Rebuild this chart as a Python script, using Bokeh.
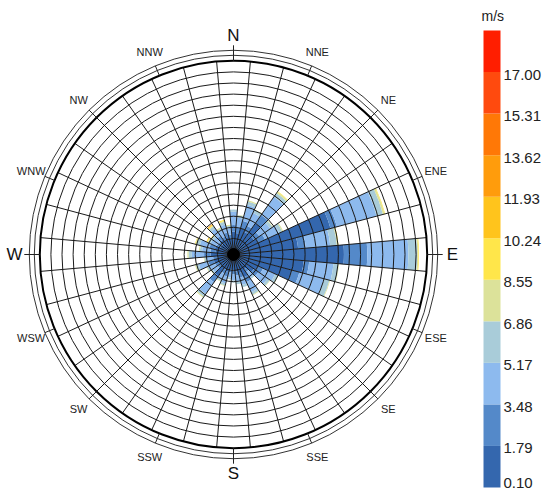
import numpy as np
from bokeh.plotting import figure
from bokeh.models import Range1d, ColumnDataSource
from bokeh.core.properties import value
from bokeh.embed import file_html
from bokeh.resources import INLINE

# ---------------- data ----------------
directions = list(range(0, 360, 10))  # compass bearing of each sector (deg)

# frequency (%) per speed bin, per direction (stacked from centre outward)
bin1 = [1.6, 1.5, 2.0, 1.8, 3.0, 1.8, 2.0, 8.6, 5.4, 9.5, 5.9, 5.0,
        2.0, 1.8, 1.2, 1.8, 1.3, 1.1, 1.0, 0.9, 1.2, 1.1, 1.9, 1.0,
        1.0, 1.4, 1.0, 1.6, 1.2, 1.3, 0.9, 0.9, 1.2, 1.0, 1.2, 1.0]
bin2 = [0.6, 0.5, 0.7, 0.6, 0.9, 0.6, 0.7, 0.6, 0.7, 2.1, 0.5, 0.7,
        0.5, 0.5, 0.3, 0.5, 0.4, 0.35, 0.35, 0.3, 0.4, 0.35, 0.7, 0.3,
        0.4, 0.5, 0.4, 0.6, 0.45, 0.5, 0.35, 0.3, 0.4, 0.35, 0.4, 0.35]
bin3 = [1.2, 0.9, 1.5, 1.3, 2.0, 1.2, 1.4, 3.7, 2.2, 3.7, 2.2, 2.3,
        1.2, 1.0, 0.6, 1.0, 0.7, 0.6, 0.55, 0.45, 0.65, 0.6, 1.3, 0.55,
        0.6, 0.9, 0.6, 1.1, 0.75, 0.9, 0.6, 0.55, 0.8, 0.6, 0.75, 0.6]
bin4 = [0.2, 0.2, 0.3, 0.3, 0.4, 0.25, 0.3, 0.6, 0.6, 0.8, 0.45, 0.5,
        0.3, 0.25, 0.15, 0.25, 0.2, 0.2, 0.17, 0.15, 0.2, 0.15, 0.3, 0.17,
        0.2, 0.25, 0.2, 0.3, 0.2, 0.3, 0.2, 0.2, 0.25, 0.2, 0.25, 0.2]
bin5 = [0.0, 0.05, 0.1, 0.05, 0.15, 0.05, 0.1, 0.15, 0.1, 0.1, 0.05, 0.06,
        0.05, 0.05, 0.0, 0.05, 0.0, 0.0, 0.0, 0.0, 0.05, 0.05, 0.1, 0.05,
        0.05, 0.1, 0.05, 0.1, 0.1, 0.1, 0.1, 0.07, 0.1, 0.1, 0.1, 0.1]
bin6 = [0.0, 0.0, 0.0, 0.0, 0.05, 0.0, 0.0, 0.05, 0.05, 0.06, 0.0, 0.0,
        0.0, 0.0, 0.0, 0.0, 0.0, 0.0, 0.0, 0.0, 0.0, 0.0, 0.0, 0.0,
        0.0, 0.0, 0.0, 0.0, 0.0, 0.05, 0.05, 0.05, 0.05, 0.0, 0.1, 0.0]
bin7 = [0.0, 0.0, 0.0, 0.0, 0.0, 0.0, 0.0, 0.0, 0.0, 0.0, 0.0, 0.0,
        0.0, 0.0, 0.0, 0.0, 0.0, 0.0, 0.0, 0.0, 0.0, 0.0, 0.0, 0.0,
        0.0, 0.0, 0.0, 0.0, 0.0, 0.0, 0.05, 0.0, 0.05, 0.0, 0.0, 0.0]
bin8 = [0.0, 0.0, 0.0, 0.0, 0.0, 0.0, 0.0, 0.0, 0.0, 0.0, 0.0, 0.0,
        0.0, 0.0, 0.0, 0.0, 0.0, 0.0, 0.0, 0.0, 0.0, 0.0, 0.0, 0.0,
        0.0, 0.0, 0.0, 0.0, 0.0, 0.0, 0.0, 0.0, 0.05, 0.0, 0.0, 0.0]
bins = [bin1, bin2, bin3, bin4, bin5, bin6, bin7, bin8]

speed_ticks = ["0.10", "1.79", "3.48", "5.17", "6.86", "8.55",
               "10.24", "11.93", "13.62", "15.31", "17.00"]
speed_colors = ["#3467AE", "#5489C9", "#8DBAEE", "#A9CCD9", "#DCE29A",
                "#FFE64A", "#FFC41C", "#FF9C0C", "#FF7806", "#FF4A0E", "#FF1E00"]

compass = ["N", "NNE", "NE", "ENE", "E", "ESE", "SE", "SSE",
           "S", "SSW", "SW", "WSW", "W", "WNW", "NW", "NNW"]
n_rings = 17

# ---------------- geometry ----------------
W_FIG, H_FIG = 550, 489
CX, CY = 233.0, H_FIG - 254.0
R0 = 5.0           # radius of centre hole
S = 11.1           # px per % ring
R_OUT = R0 + S * n_rings

def pol(r, bearing_deg):
    a = np.radians(90.0 - np.asarray(bearing_deg, dtype=float))
    return CX + r * np.cos(a), CY + r * np.sin(a)

p = figure(width=W_FIG, height=H_FIG, x_range=Range1d(0, W_FIG), y_range=Range1d(0, H_FIG),
           output_backend="svg", toolbar_location=None, min_border=0)
p.axis.visible = False
p.grid.visible = False
p.outline_line_color = None
p.background_fill_color = "white"
p.border_fill_color = "white"

# stacked wedges
xs, ys, r_in, r_out, a0, a1, cols = [], [], [], [], [], [], []
for i, d in enumerate(directions):
    cum = 0.0
    for k, b in enumerate(bins):
        v = b[i]
        if v <= 0:
            continue
        r_in.append(R0 + S * cum)
        cum += v
        r_out.append(R0 + S * cum)
        a0.append(np.radians(90 - d - 5))
        a1.append(np.radians(90 - d + 5))
        xs.append(CX); ys.append(CY)
        cols.append(speed_colors[k])
src = ColumnDataSource(dict(x=xs, y=ys, ri=r_in, ro=r_out, a0=a0, a1=a1, c=cols))
p.annular_wedge(x="x", y="y", inner_radius="ri", outer_radius="ro",
                start_angle="a0", end_angle="a1", fill_color="c",
                line_color=None, source=src)

# grid rings
ring_r = [R0 + S * k for k in range(1, n_rings)]
p.circle(x=[CX] * len(ring_r), y=[CY] * len(ring_r), radius=ring_r,
         fill_color=None, line_color="#1a1a1a", line_width=1)
# spokes
sp = np.arange(5, 360, 10)
x1, y1 = pol(R_OUT, sp)
p.segment(x0=[CX] * len(sp), y0=[CY] * len(sp), x1=list(x1), y1=list(y1),
          line_color="#1a1a1a", line_width=1)
# outer rings
p.circle(x=[CX], y=[CY], radius=[R_OUT], fill_color=None, line_color="black", line_width=2)
p.circle(x=[CX, CX], y=[CY, CY], radius=[R_OUT + 5.5, R_OUT + 10.5],
         fill_color=None, line_color="#333333", line_width=1)
p.circle(x=[CX], y=[CY], radius=[R0 + 1], fill_color="black", line_color="black")

# compass ticks
bear16 = np.arange(16) * 22.5
major = [i % 4 == 0 for i in range(16)]
r_end = np.array([R_OUT + 15.5 if m else R_OUT + 10.5 for m in major])
tx0, ty0 = pol(R_OUT, bear16)
tx1, ty1 = pol(r_end, bear16)
p.segment(x0=list(tx0), y0=list(ty0), x1=list(tx1), y1=list(ty1),
          line_color="#222222", line_width=1)

# compass labels
lx, ly = pol(219.0, bear16)
small = [c for c, m in zip(compass, major) if not m]
p.text(x=[x for x, m in zip(lx, major) if not m], y=[y for y, m in zip(ly, major) if not m],
       text=small, text_font=value("Liberation Sans"), text_font_size="11px",
       text_align="center", text_baseline="middle", text_color="#222222")
big = [c for c, m in zip(compass, major) if m]
p.text(x=[x for x, m in zip(lx, major) if m], y=[y for y, m in zip(ly, major) if m],
       text=big, text_font=value("Liberation Sans"), text_font_size="17px",
       text_align="center", text_baseline="middle", text_color="#111111")

# colour bar
CB_TOP, CB_BOT = H_FIG - 30.0, H_FIG - 487.0
seg = (CB_TOP - CB_BOT) / len(speed_colors)
bottoms = [CB_BOT + seg * i for i in range(len(speed_colors))]
p.quad(left=483, right=500, bottom=bottoms, top=[b + seg for b in bottoms],
       fill_color=speed_colors, line_color=None)
lab_y = [max(b - 2.5, 7.0) for b in bottoms[:len(speed_ticks)]]
p.text(x=[503] * len(speed_ticks), y=lab_y,
       text=speed_ticks, text_font=value("Liberation Sans"), text_font_size="15px",
       text_align="left", text_baseline="middle", text_color="#222222")
p.text(x=[481], y=[H_FIG - 15], text=["m/s"], text_font=value("Liberation Sans"),
       text_font_size="14px", text_align="left", text_baseline="middle", text_color="#222222")

open("out.html", "w").write(file_html(p, INLINE))
